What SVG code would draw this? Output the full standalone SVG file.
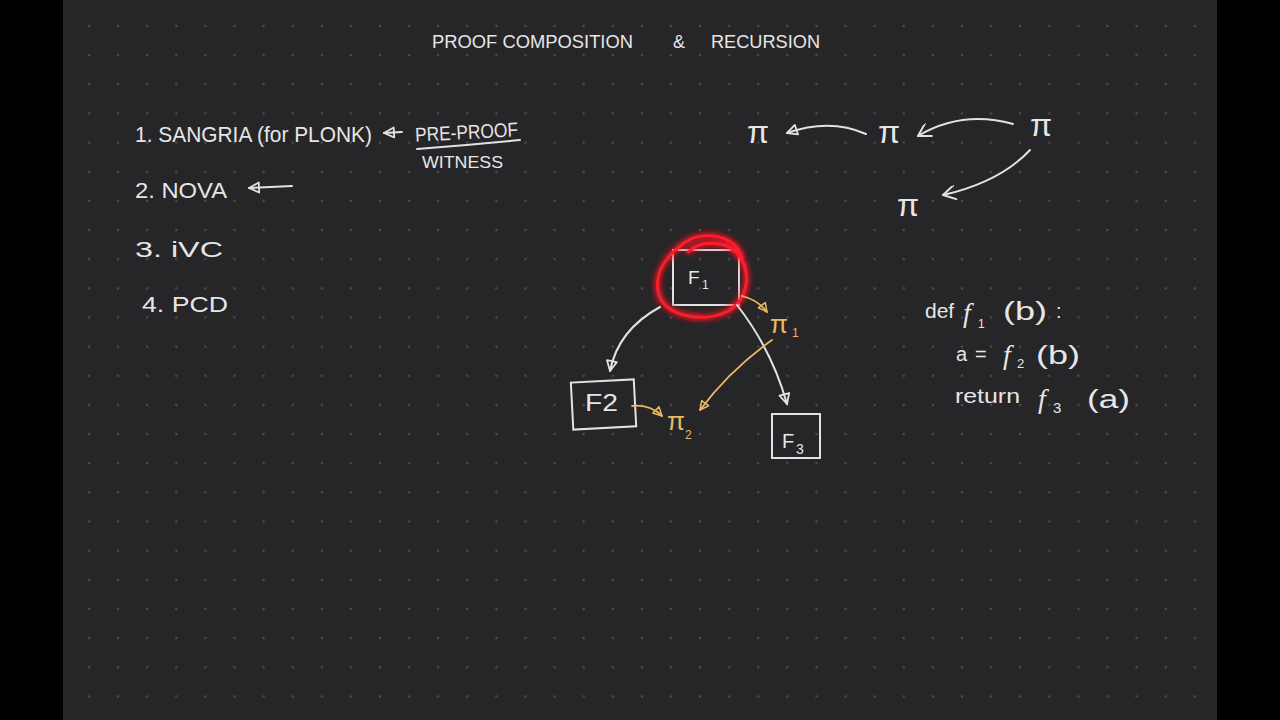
<svg xmlns="http://www.w3.org/2000/svg" width="1280" height="720" viewBox="0 0 1280 720">
  <style>
    .t { font-family: "Liberation Sans", Arial, sans-serif; fill: #e6e6e6; }
    .fs { font-family: "Liberation Serif", "Times New Roman", serif; font-style: italic; fill: #e6e6e6; }
    .or { font-family: "Liberation Sans", Arial, sans-serif; fill: #e9b865; }
    .box { fill: none; stroke: #e2e2e2; stroke-width: 2; }
    .ln { fill: none; stroke: #e2e2e2; stroke-width: 2; stroke-linecap: round; }
    .ol { fill: none; stroke: #e9b865; stroke-width: 1.8; stroke-linecap: round; }
  </style>
  <defs>
    <pattern id="grid" patternUnits="userSpaceOnUse" x="74.45" y="11.4" width="29.1" height="29.15">
      <circle cx="14.55" cy="14.58" r="1.3" fill="#4c4b4f"/>
    </pattern>
    <marker id="tri" viewBox="-2 -2 14 14" refX="10" refY="5" markerWidth="14" markerHeight="14" markerUnits="userSpaceOnUse" orient="auto">
      <path d="M0,0 L10,5 L0,10 Z" fill="none" stroke="#e2e2e2" stroke-width="1.8" stroke-linejoin="round"/>
    </marker>
    <marker id="triO" viewBox="-2 -2 14 14" refX="10" refY="5" markerWidth="12" markerHeight="12" markerUnits="userSpaceOnUse" orient="auto">
      <path d="M0,0 L10,5 L0,10 Z" fill="none" stroke="#e9b865" stroke-width="1.8" stroke-linejoin="round"/>
    </marker>
    <marker id="chev" viewBox="-2 -2 16 16" refX="12" refY="7" markerWidth="16" markerHeight="16" markerUnits="userSpaceOnUse" orient="auto">
      <path d="M0,0 L12,7 L0,14" fill="none" stroke="#e2e2e2" stroke-width="2" stroke-linecap="round" stroke-linejoin="round"/>
    </marker>
    <filter id="glow" x="-30%" y="-30%" width="160%" height="160%">
      <feGaussianBlur in="SourceGraphic" stdDeviation="3" result="b"/>
      <feMerge><feMergeNode in="b"/><feMergeNode in="b"/><feMergeNode in="SourceGraphic"/></feMerge>
    </filter>
  </defs>

  <rect x="0" y="0" width="1280" height="720" fill="#000"/>
  <rect x="63" y="0" width="1154" height="720" fill="#262528"/>
  <rect x="63" y="0" width="1154" height="720" fill="url(#grid)"/>

  <g id="title">
    <text class="t" x="432" y="48" font-size="18" textLength="201" lengthAdjust="spacingAndGlyphs">PROOF COMPOSITION</text>
    <text class="t" x="673" y="48" font-size="18">&amp;</text>
    <text class="t" x="711" y="48" font-size="18" textLength="109" lengthAdjust="spacingAndGlyphs">RECURSION</text>
  </g>

  <g id="list">
    <text class="t" x="135" y="142" font-size="22" textLength="237" lengthAdjust="spacingAndGlyphs">1. SANGRIA (for PLONK)</text>
    <text class="t" x="415" y="139" font-size="20" textLength="103" lengthAdjust="spacingAndGlyphs" transform="rotate(-3 466 132)">PRE-PROOF</text>
    <path class="ln" d="M417,149 Q470,145 520,140"/>
    <text class="t" x="422" y="168" font-size="16" textLength="81" lengthAdjust="spacingAndGlyphs">WITNESS</text>
    <text class="t" x="135" y="198" font-size="22" textLength="92" lengthAdjust="spacingAndGlyphs">2. NOVA</text>
    <text class="t" x="135" y="257" font-size="22" textLength="88" lengthAdjust="spacingAndGlyphs">3. iVC</text>
    <text class="t" x="142" y="312" font-size="22" textLength="86" lengthAdjust="spacingAndGlyphs">4. PCD</text>
  </g>

  <g id="pi-chain">
    <text class="t" x="747" y="143" font-size="32">π</text>
    <text class="t" x="878" y="143" font-size="32">π</text>
    <text class="t" x="1030" y="136" font-size="32">π</text>
    <text class="t" x="897" y="216" font-size="32">π</text>
  </g>

  <g id="F1">
    <rect class="box" x="673" y="250" width="66" height="55"/>
    <text class="t" x="688" y="284" font-size="19">F</text>
    <text class="t" x="702" y="289" font-size="12">1</text>
  </g>
  <g id="F1-highlight" filter="url(#glow)">
    <path d="M742,258 C735,234 703,230 684,243 C666,256 653,274 659,295 C666,316 702,323 726,312 C749,301 752,272 738,254 C726,240 700,240 688,252" fill="none" stroke="#ff1f2a" stroke-width="3" stroke-linecap="round"/>
  </g>

  <g id="F2">
    <rect class="box" x="572" y="381" width="63" height="47" transform="rotate(-3 603 404)"/>
    <text class="t" x="585" y="411" font-size="24" textLength="33" lengthAdjust="spacingAndGlyphs">F2</text>
  </g>

  <g id="F3">
    <rect class="box" x="772" y="414" width="48" height="44"/>
    <text class="t" x="782" y="448" font-size="20">F</text>
    <text class="t" x="796" y="454" font-size="14">3</text>
  </g>

  <g id="pi1">
    <text class="or" x="770" y="333" font-size="26">π</text>
    <text class="or" x="792" y="337" font-size="12">1</text>
  </g>
  <g id="pi2">
    <text class="or" x="667" y="430" font-size="26">π</text>
    <text class="or" x="685" y="439" font-size="12">2</text>
  </g>

  <g id="code">
    <text class="t" x="925" y="318" font-size="21">def</text>
    <text class="fs" x="963" y="322" font-size="28">f</text>
    <text class="t" x="978" y="328" font-size="12">1</text>
    <text class="t" x="1003" y="320" font-size="26" textLength="44" lengthAdjust="spacingAndGlyphs">(b)</text>
    <text class="t" x="1056" y="318" font-size="20">:</text>

    <text class="t" x="956" y="361" font-size="20">a</text>
    <text class="t" x="975" y="361" font-size="20">=</text>
    <text class="fs" x="1003" y="364" font-size="28">f</text>
    <text class="t" x="1017" y="368" font-size="13">2</text>
    <text class="t" x="1036" y="364" font-size="26" textLength="44" lengthAdjust="spacingAndGlyphs">(b)</text>

    <text class="t" x="955" y="403" font-size="20" textLength="65" lengthAdjust="spacingAndGlyphs">return</text>
    <text class="fs" x="1038" y="408" font-size="28">f</text>
    <text class="t" x="1053" y="413" font-size="15">3</text>
    <text class="t" x="1087" y="408" font-size="26" textLength="43" lengthAdjust="spacingAndGlyphs">(a)</text>
  </g>

  <g id="connectors">
    <path class="ln" d="M402,132 L384,133" marker-end="url(#tri)"/>
    <path class="ln" d="M292,186 L249,188" marker-end="url(#tri)"/>
    <path class="ln" d="M866,134 Q830,118 787,133" marker-end="url(#tri)"/>
    <path class="ln" d="M1013,124 Q962,110 918,136" marker-end="url(#chev)"/>
    <path class="ln" d="M1030,150 Q1000,182 943,195" marker-end="url(#chev)"/>
    <path class="ln" d="M660,307 Q618,330 610,371" marker-end="url(#tri)"/>
    <path class="ln" d="M737,305 Q772,350 787,404" marker-end="url(#tri)"/>
    <path class="ol" d="M742,296 Q758,300 767,312" marker-end="url(#triO)"/>
    <path class="ol" d="M772,340 Q730,370 700,410" marker-end="url(#triO)"/>
    <path class="ol" d="M632,406 Q650,404 662,416" marker-end="url(#triO)"/>
  </g>
</svg>
